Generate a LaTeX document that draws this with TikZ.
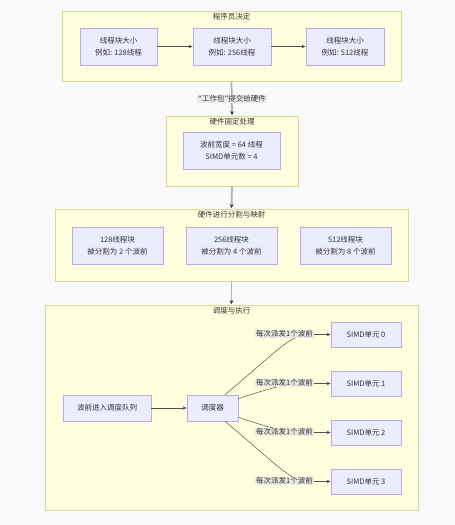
\documentclass[tikz,border=0pt]{standalone}
\usepackage{fontspec}
\setmainfont{Noto Sans CJK SC}
\newfontfamily\quotefont{DejaVu Sans}
\usetikzlibrary{arrows.meta,positioning}

\definecolor{bgcol}{HTML}{F8FAFC}
\definecolor{clfill}{HTML}{FFFFDE}
\definecolor{cldraw}{HTML}{D8D88E}
\definecolor{ndfill}{HTML}{ECECFF}
\definecolor{nddraw}{HTML}{BCA8EC}
\definecolor{txtcol}{HTML}{333333}
\definecolor{lblfill}{HTML}{E9E9E4}

\tikzset{
  cluster/.style={draw=cldraw, fill=clfill, line width=0.8pt, rectangle, inner sep=0pt},
  cltitle/.style={text=txtcol, inner sep=1pt},
  box/.style={draw=nddraw, fill=ndfill, line width=0.8pt, rectangle, align=center,
    text=txtcol, inner sep=0pt, minimum height=37pt},
  wave/.style={fill=lblfill, text=txtcol, inner sep=1pt},
  flow/.style={draw=txtcol!85, line width=0.5pt, -{Stealth[length=4pt,width=3.5pt]}},
  link/.style={draw=txtcol!85, line width=0.5pt},
  bigflow/.style={draw=black!30, line width=1.8pt,
    -{Stealth[length=4pt,width=4pt,color=txtcol]}, shorten >=0.5pt}
}

\begin{document}
\begin{tikzpicture}[x=1pt, y=-1pt]

  \fontsize{7.5}{12}\selectfont

  \fill[bgcol] (0,0) rectangle (455,525);
  \useasboundingbox (0,0) rectangle (455,525);

  % clusters
  \node[cluster, minimum width=339pt, minimum height=70pt] (prog) at (231.5, 46) {};
  \node[cluster, minimum width=132pt, minimum height=70pt] (hw) at (232, 151) {};
  \node[cluster, minimum width=353pt, minimum height=72pt] (split) at (231.5, 245) {};
  \node[cluster, minimum width=373pt, minimum height=205pt] (sched) at (231.5, 407.5) {};

  \node[cltitle] (progT) at (231.5, 17) {程序员决定};
  \node[cltitle] (hwT) at (232, 122) {硬件固定处理};
  \node[cltitle] (splitT) at (231.5, 215) {硬件进行分割与映射};
  \node[cltitle] (schedT) at (231.5, 311) {调度与执行};

  % programmer
  \node[box, minimum width=77pt] (blk128) at (118.5, 46.5) {线程块大小\\例如: 128线程};
  \node[box, minimum width=78pt] (blk256) at (232, 46.5) {线程块大小\\例如: 256线程};
  \node[box, minimum width=78pt] (blk512) at (345, 46.5) {线程块大小\\例如: 512线程};

  \draw[flow] (blk128) -- (blk256);
  \draw[flow] (blk256) -- (blk512);

  % hardware
  \node[box, minimum width=97pt] (fixed) at (231.5, 150.5) {波前宽度 = 64 线程\\SIMD单元数 = 4};

  % split
  \node[box, minimum width=91pt] (part128) at (117.5, 245.5) {128线程块\\被分割为 2 个波前};
  \node[box, minimum width=91pt] (part256) at (231.5, 245.5) {256线程块\\被分割为 4 个波前};
  \node[box, minimum width=91pt] (part512) at (345.5, 245.5) {512线程块\\被分割为 8 个波前};

  % scheduling
  \node[box, minimum width=88pt, minimum height=26pt] (queue) at (107, 408) {波前进入调度队列};
  \node[box, minimum width=51pt, minimum height=26pt] (disp) at (212.5, 408) {调度器};

  \node[box, minimum width=70pt, minimum height=25pt] (simd0) at (366, 334.5) {SIMD单元 0};
  \node[box, minimum width=70pt, minimum height=25pt] (simd1) at (366, 383.5) {SIMD单元 1};
  \node[box, minimum width=70pt, minimum height=25pt] (simd2) at (366, 432.5) {SIMD单元 2};
  \node[box, minimum width=70pt, minimum height=25pt] (simd3) at (366, 481.5) {SIMD单元 3};

  \coordinate (bend0) at (306, 334.5);
  \coordinate (bend1) at (300, 383.5);
  \coordinate (bend2) at (300, 432.5);
  \coordinate (bend3) at (306, 481.5);

  \draw[flow] (queue) -- (disp);

  \draw[link] ([xshift=12.5pt]disp.north) .. controls (265,362) and (290,334.5) .. (bend0);
  \draw[link] ([yshift=-4pt]disp.north east) .. controls (265,390) and (285,383.5) .. (bend1);
  \draw[link] ([yshift=4pt]disp.south east) .. controls (265,426) and (285,432.5) .. (bend2);
  \draw[link] ([xshift=12.5pt]disp.south) .. controls (265,454) and (290,481.5) .. (bend3);

  \draw[flow] (bend0) -- (simd0);
  \draw[flow] (bend1) -- (simd1);
  \draw[flow] (bend2) -- (simd2);
  \draw[flow] (bend3) -- (simd3);

  \node[wave] (lbl0) at (284.5, 334) {每次派发1个波前};
  \node[wave] (lbl1) at (284.5, 383) {每次派发1个波前};
  \node[wave] (lbl2) at (284.5, 432) {每次派发1个波前};
  \node[wave] (lbl3) at (284.5, 481) {每次派发1个波前};

  % between clusters
  \draw[bigflow] (prog.south) -- (hw.north);
  \node[wave, fill=black!8] (handoff) at (232, 99) {{\quotefont “}工作包{\quotefont ”}提交给硬件};
  \draw[bigflow] (hw.south) -- (split.north);
  \draw[bigflow] (split.south) -- (sched.north);

\end{tikzpicture}
\end{document}
